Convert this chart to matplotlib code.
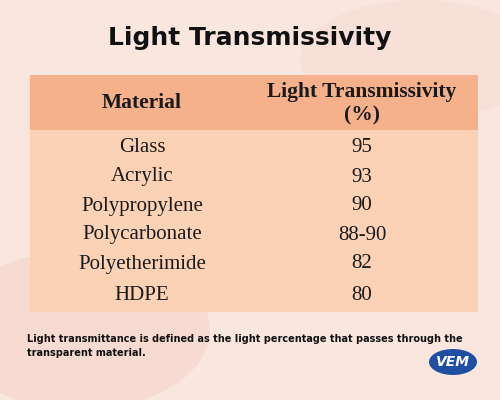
import matplotlib.pyplot as plt
from matplotlib.patches import Rectangle, Ellipse

materials = ["Glass", "Acrylic", "Polypropylene", "Polycarbonate", "Polyetherimide", "HDPE"]
transmissivity = ["95", "93", "90", "88-90", "82", "80"]
col_headers = ["Material", "Light Transmissivity\n(%)"]
title = "Light Transmissivity"
note = ("Light transmittance is defined as the light percentage that passes through the\n"
        "transparent material.")

W, H = 500, 400
fig = plt.figure(figsize=(5, 4), dpi=100)
fig.patch.set_facecolor("#f9e6df")
ax = fig.add_axes([0, 0, 1, 1])
ax.set_xlim(0, W)
ax.set_ylim(H, 0)
ax.axis("off")

# soft watercolor blotches
ax.add_patch(Ellipse((80, 330), 260, 160, color="#f6d3c8", alpha=0.6, lw=0))
ax.add_patch(Ellipse((420, 60), 240, 120, color="#f7dcd2", alpha=0.6, lw=0))

ax.text(250, 38, title, ha="center", va="center", fontsize=18,
        fontweight="heavy", color="#111111", family="DejaVu Sans")

# table
ax.add_patch(Rectangle((30, 75), 448, 55, color="#f5b08c", lw=0))
ax.add_patch(Rectangle((30, 130), 448, 182, color="#fbd2b6", lw=0))

serif = "Liberation Serif"
ax.text(142, 103, col_headers[0], ha="center", va="center", fontsize=15.5,
        fontweight="bold", family=serif, color="#1a1a1a")
ax.text(362, 104, col_headers[1], ha="center", va="center", fontsize=15.5,
        fontweight="bold", family=serif, color="#1a1a1a", linespacing=1.2)

row_y = [148, 177, 206, 235, 264, 295]
for m, v, y in zip(materials, transmissivity, row_y):
    ax.text(142, y, m, ha="center", va="center", fontsize=15, family=serif, color="#1a1a1a")
    ax.text(362, y, v, ha="center", va="center", fontsize=15, family=serif, color="#1a1a1a")

ax.text(27, 346, note, ha="left", va="center", fontsize=7, fontweight="bold",
        family="DejaVu Sans", color="#111111", linespacing=1.5)

# logo
ax.add_patch(Ellipse((453, 362), 48, 26, color="#1f4fa3", lw=0))
ax.text(453, 362, "VEM", ha="center", va="center", fontsize=10, fontweight="bold",
        color="white", style="italic")

fig.savefig("out.png", dpi=100, facecolor=fig.get_facecolor())
